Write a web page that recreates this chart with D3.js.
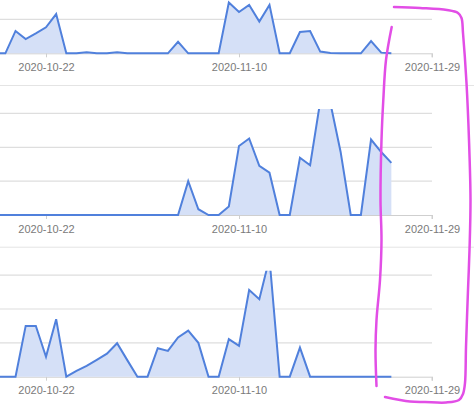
<!DOCTYPE html>
<html>
<head>
<meta charset="utf-8">
<script src="https://cdn.jsdelivr.net/npm/d3@7"></script>
<style>
  body { margin: 0; background: #fff; }
  svg { display: block; }
  .lbl { font-family: "Liberation Sans", Arial, sans-serif; font-size: 11px; fill: #7a7a7a; }
</style>
</head>
<body>
<div id="chart"></div>
<script>
// days from 2020-10-17 through 2020-11-25
var startDate = new Date(2020, 9, 17);
var tickDates = ["2020-10-22", "2020-11-10", "2020-11-29"];

// values in gridline units
var seriesA = [0, 0, 0.66, 0.42, 0.59, 0.77, 1.16, 0, 0, 0.03,
               0, 0, 0.03, 0, 0, 0, 0, 0, 0.34, 0,
               0, 0, 0, 1.50, 1.22, 1.43, 0.94, 1.43, 0, 0,
               0.63, 0.66, 0.05, 0.01, 0, 0, 0, 0.36, 0.02, 0];
var seriesB = [0, 0, 0, 0, 0, 0, 0, 0, 0, 0,
               0, 0, 0, 0, 0, 0, 0, 0, 0, 1.0,
               0.17, 0, 0, 0.25, 2.04, 2.26, 1.45, 1.25, 0, 0,
               1.69, 1.47, 3.36, 3.3, 1.87, 0, 0, 2.23, 1.86, 1.54];
var seriesC = [0, 0, 0, 1.5, 1.5, 0.59, 1.7, 0, 0.17, 0.32,
               0.5, 0.68, 0.99, 0.49, 0, 0, 0.84, 0.76, 1.16, 1.36,
               1.0, 0, 0, 1.11, 0.91, 2.56, 2.29, 3.5, 0, 0,
               0.86, 0, 0, 0, 0, 0, 0, 0, 0, 0];
var gridValues = [1, 2, 3];

// hand-drawn pink bracket over the screenshot
var penRight = [[394,7],[420,8],[447,10],[458,13],[461.5,18],[463,33],[466.5,83],[469,140],
                [470.5,200],[469.5,250],[468,290],[466,347],[465,383],[463,394],[459,400],
                [446,402.5],[425,402],[410,401.5],[385,397]];
var penLeft = [[391.7,27],[386,60],[383.3,100],[381.5,140],[380.5,200],[381.5,240],
               [380,280],[376.5,320],[375.5,350],[376.5,386]];

var W = 474, H = 418;
var parse = d3.timeParse("%Y-%m-%d");
var fmt = d3.timeFormat("%Y-%m-%d");

var svg = d3.select("#chart").append("svg")
    .attr("width", W)
    .attr("height", H);

var x = d3.scaleTime()
    .domain([parse("2020-10-22"), parse("2020-11-29")])
    .range([46, 432]);

var rowStep = 161.7;
var unit = 33.85;

function drawPanel(values, i) {
    var data = values.map(function(v, k) {
        return { date: d3.timeDay.offset(startDate, k), v: v };
    });
    var g = svg.append("g").attr("transform", "translate(0," + (53.3 + i * rowStep) + ")");
    var y = d3.scaleLinear().domain([0, 3]).range([0, -3 * unit]);

    // separator from the block above
    g.append("line")
        .attr("x1", 0).attr("x2", W)
        .attr("y1", -129.5).attr("y2", -129.5)
        .attr("stroke", "#e4e4e4");

    g.selectAll(".grid")
        .data(gridValues)
        .enter().append("line")
        .attr("x1", 0).attr("x2", x.range()[1])
        .attr("y1", function(d) { return y(d); })
        .attr("y2", function(d) { return y(d); })
        .attr("stroke", "#dedede")
        .attr("stroke-width", 1.2);

    var axis = d3.axisBottom(x)
        .tickValues(tickDates.map(parse))
        .tickFormat(fmt)
        .tickSize(4)
        .tickPadding(6);
    var ax = g.append("g").call(axis);
    ax.select(".domain").attr("stroke", "#cfcfcf").attr("d", "M0,0.5H" + x.range()[1] + "V4");
    ax.selectAll(".tick line").attr("stroke", "#cfcfcf");
    ax.selectAll(".tick text").attr("class", "lbl").attr("fill", null);

    var clipId = "clip" + i;
    g.append("clipPath").attr("id", clipId)
      .append("rect")
        .attr("x", -20).attr("y", -106)
        .attr("width", x.range()[1] + 20).attr("height", 108);

    var area = d3.area()
        .x(function(d) { return x(d.date); })
        .y0(y(0))
        .y1(function(d) { return y(d.v); });
    var line = d3.line()
        .x(function(d) { return x(d.date); })
        .y(function(d) { return y(d.v); });

    var plot = g.append("g").attr("clip-path", "url(#" + clipId + ")");
    plot.append("path")
        .datum(data)
        .attr("d", area)
        .attr("fill", "#d5e0f7");
    plot.append("path")
        .datum(data)
        .attr("d", line)
        .attr("fill", "none")
        .attr("stroke", "#5080dc")
        .attr("stroke-width", 2)
        .attr("stroke-linejoin", "miter");
}

[seriesA, seriesB, seriesC].forEach(drawPanel);

var pen = d3.line().curve(d3.curveCatmullRom);
[penRight, penLeft].forEach(function(pts) {
    svg.append("path")
        .attr("d", pen(pts))
        .attr("fill", "none")
        .attr("stroke", "#e24ee6")
        .attr("stroke-width", 2.5)
        .attr("stroke-linecap", "round");
});
</script>
</body>
</html>
